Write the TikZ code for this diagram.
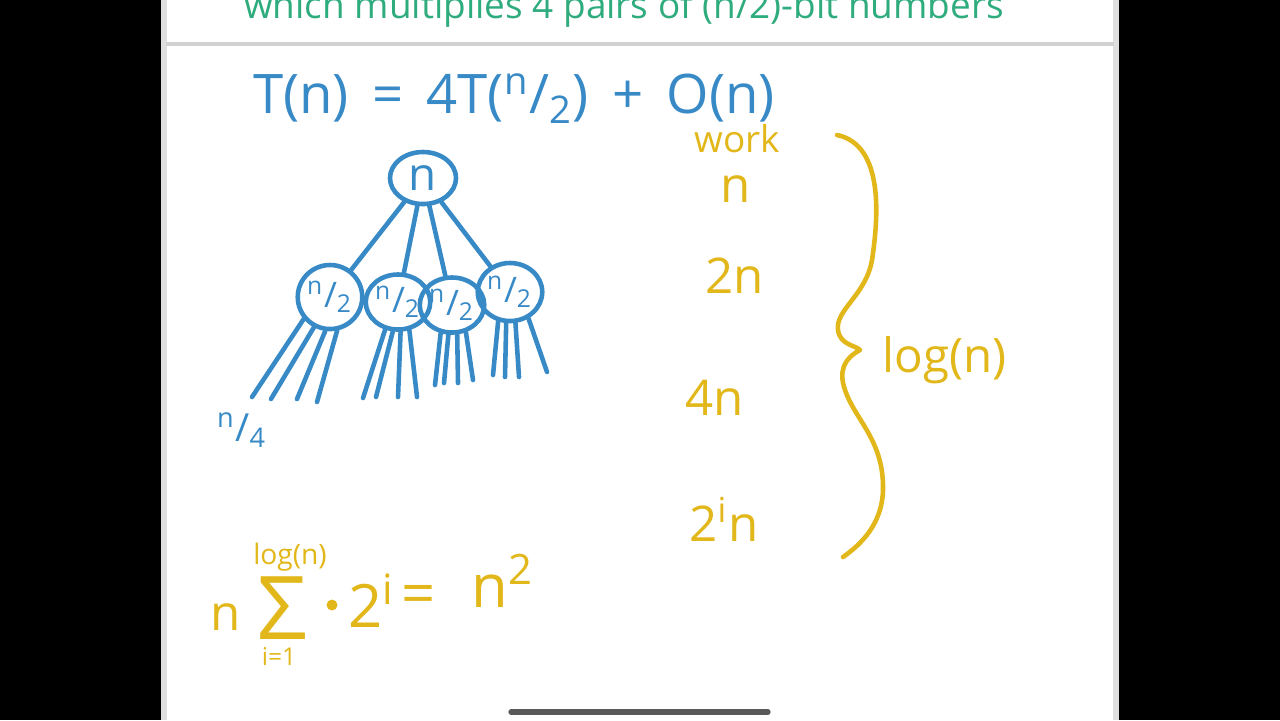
\documentclass[tikz,border=0pt]{standalone}
\usepackage{fontspec}
\setmainfont{Open Sans}
\usetikzlibrary{shapes.geometric}
\definecolor{inkblue}{RGB}{56,138,199}
\definecolor{inkgold}{RGB}{226,183,26}
\definecolor{inkgreen}{RGB}{46,172,125}
\newcommand{\fs}[1]{\fontsize{#1}{#1}\selectfont}
\begin{document}
\begin{tikzpicture}[x=0.01cm, y=-0.01cm,
    pen/.style={line width=1.3pt, line cap=round, line join=round},
    treenode/.style={ellipse, draw=inkblue, pen, inner sep=0pt, text=inkblue, font=\fs{10}},
    gold/.style={text=inkgold, inner sep=0pt}]
\clip (0,0) rectangle (1280,720);
\fill[black] (0,0) rectangle (1280,720);
\fill[white] (162,0) rectangle (1118,720);
\draw[gray!25, line width=1.5pt] (164,0) -- (164,720) (1116,0) -- (1116,720);
\draw[gray!35, line width=1.2pt] (166,44) -- (1114,44);
\draw[black!65, line width=1.5pt, line cap=round] (511,712) -- (768,712);

\node[text=inkgreen, font=\fs{10.5}, anchor=base] (title) at (624,18) {which multiplies 4 pairs of (n/2)-bit numbers};
\node[text=inkblue, font=\fs{15.5}, anchor=base] (rec) at (514,113)
    {T(n)\, =\, 4T(\textsuperscript{n}/\textsubscript{2})\, +\, O(n)};

% recursion tree
\node[treenode, font=\fs{13}, minimum width=.66cm, minimum height=.52cm] (root) at (423,178) {n};
\node[treenode, minimum width=.60cm, minimum height=.64cm] (c1) at (330,297) {\textsuperscript{n}/\textsubscript{2}};
\node[treenode, minimum width=.54cm, minimum height=.55cm] (c2) at (398,302) {\textsuperscript{n}/\textsubscript{2}};
\node[treenode, minimum width=.46cm, minimum height=.55cm] (c3) at (452,305) {\textsuperscript{n}/\textsubscript{2}};
\node[treenode, minimum width=.54cm, minimum height=.58cm] (c4) at (510,292) {\textsuperscript{n}/\textsubscript{2}};
\foreach \c in {c1,c2,c3,c4}
    \draw[pen, inkblue] (root) -- (\c);
\foreach \c/\a/\x/\y [count=\i] in {c1/-140/252/397, c1/-118/271/399, c1/-98/297/399, c1/-78/317/402,
    c2/-115/363/398, c2/-100/376/397, c2/-85/398/397, c2/-68/417/397,
    c3/-112/435/385, c3/-97/444/383, c3/-80/458/383, c3/-63/473/380,
    c4/-112/493/375, c4/-97/505/377, c4/-80/519/377, c4/-55/547/372}
{
    \coordinate (leaf\i) at (\x,\y);
    \draw[pen, inkblue] (\c.\a) -- (leaf\i);
}
\node[text=inkblue, font=\fs{11}] (quarter) at (242,430) {\textsuperscript{n}/\textsubscript{4}};

% work per level
\node[gold, font=\fs{10.5}, anchor=base] (work) at (737,152) {work};
\node[gold, font=\fs{14}, anchor=base] (w0) at (736,202) {n};
\node[gold, font=\fs{14}, anchor=base] (w1) at (735,293) {2n};
\node[gold, font=\fs{14}, anchor=base] (w2) at (715,415) {4n};
\node[gold, font=\fs{14}, anchor=base] (w3) at (724,541) {2\textsuperscript{i}n};

\coordinate (tip) at (860,350);
\draw[pen, inkgold] (837,135) .. controls (885,145) and (878,220) .. (872,260)
    .. controls (866,295) and (835,310) .. (838,330)
    .. controls (840,345) and (855,345) .. (tip)
    .. controls (845,358) and (838,370) .. (845,390)
    .. controls (855,420) and (884,440) .. (883,490)
    .. controls (882,525) and (860,545) .. (843,557);
\node[gold, font=\fs{13.5}, anchor=west] (depth) at (882,360) {log(n)};

% total
\node[gold, font=\fs{14}, anchor=base west] (sn) at (210,630) {n};
\node[gold, font=\fs{25}] (sigma) at (282,608) {Σ};
\node[gold, font=\fs{8}] (upper) at (290,557) {log(n)};
\node[gold, font=\fs{7}] (lower) at (279,656) {i=1};
\node[circle, fill=inkgold, inner sep=1.1pt] (dot) at (332,605) {};
\node[gold, font=\fs{17}, anchor=base west] (pow) at (348,627) {2\textsuperscript{i}};
\node[gold, font=\fs{17}] (eq) at (419,600) {=};
\node[gold, font=\fs{17}, anchor=base west] (sq) at (471,607) {n\textsuperscript{2}};
\end{tikzpicture}
\end{document}
